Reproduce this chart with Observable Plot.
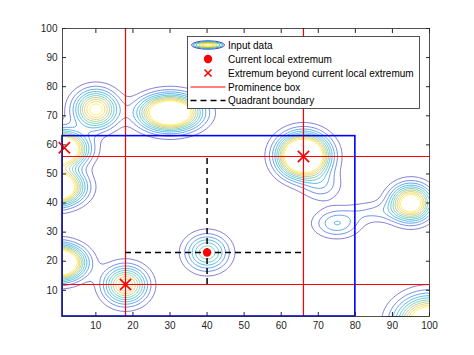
<!DOCTYPE html>
<html>
<head>
<meta charset="utf-8">
<script src="https://cdn.jsdelivr.net/npm/d3@7"></script>
<script src="https://cdn.jsdelivr.net/npm/@observablehq/plot@0.6"></script>
<style>
  body { margin: 0; background: #fff; }
  #wrap { position: relative; width: 474px; height: 355px; font-family: "Liberation Sans", Arial, sans-serif; }
  #legend { position: absolute; left: 187px; top: 36px; }
</style>
</head>
<body>
<div id="wrap"></div>
<script>
// ---- Data ----
const xTicks = [10, 20, 30, 40, 50, 60, 70, 80, 90, 100];
const yTicks = [10, 20, 30, 40, 50, 60, 70, 80, 90, 100];
const contourLevels = [0.1, 0.2, 0.3, 0.4, 0.5, 0.6, 0.7, 0.8, 0.9, 1.0];
const parulaColors = ["#4a44c4", "#2f62e0", "#1f86e0", "#12a6d4", "#30b8b0", "#7cc080", "#c8bc5a", "#f5c93a", "#f5ee20"];

// Surface bumps (centre, spread, height) estimated from the contour picture
const peakX   = [40,  18,   0,    0,    -1,   10,   30,   66,   71,   75,   85,   95,   100];
const peakY   = [23,  11.8, 19.5, 58.5, 45.5, 72.2, 71,   56.3, 46,   33,   37,   40,   -1];
const peakSX  = [3.8, 3.8,  4.2,  4.5,  4.5,  3.8,  5.1,  4.2,  3.5,  4.1,  5,    3.6,  5.5];
const peakSY  = [4.1, 4.2,  3.7,  3.8,  3.8,  4.3,  3.8,  4.6,  3.5,  3.2,  2.5,  4.0,  5.5];
const peakAmp = [0.7, 1.02, 2.0,  2.0,  2.0,  1.1,  1.8,  2.15, 0.25, 0.4,  0.2,  1.3,  1.6];

const currentX = [40];
const currentY = [23];
const beyondX = [18, 66, 1.5];
const beyondY = [12, 56, 59];
const prominenceX = [18, 66];
const prominenceY = [12, 56];
const boxX = [1, 80];
const boxY = [1, 63];
const quadVX = [40], quadVY = [12, 56];
const quadHY = [23], quadHX = [18, 66];
const legendLabels = ["Input data", "Current local extremum", "Extremum beyond current local extremum", "Prominence box", "Quadrant boundary"];

// ---- Build the sampled surface ----
const domainLo = 1, domainHi = 100;
const gridN = 200;
const grid = new Float64Array(gridN * gridN);
for (let r = 0; r < gridN; ++r) {
  const y = domainLo + (r + 0.5) * (domainHi - domainLo) / gridN;
  for (let c = 0; c < gridN; ++c) {
    const x = domainLo + (c + 0.5) * (domainHi - domainLo) / gridN;
    let v = 0;
    for (let k = 0; k < peakX.length; ++k) {
      const dx = (x - peakX[k]) / peakSX[k], dy = (y - peakY[k]) / peakSY[k];
      v += peakAmp[k] * Math.exp(-0.5 * (dx * dx + dy * dy));
    }
    grid[r * gridN + c] = v;
  }
}

const currentPts = currentX.map((x, i) => ({x, y: currentY[i]}));
const beyondPts = beyondX.map((x, i) => ({x, y: beyondY[i]}));
const tickColor = "#262626";

const plot = Plot.plot({
  width: 474, height: 355,
  marginLeft: 62, marginRight: 45, marginTop: 28, marginBottom: 39,
  x: {domain: [domainLo, domainHi], label: null},
  y: {domain: [domainLo, domainHi], label: null},
  color: {type: "linear", domain: [contourLevels[0], contourLevels[contourLevels.length - 1]],
          interpolate: d3.piecewise(d3.interpolateRgb, parulaColors)},
  style: {fontFamily: "'Liberation Sans', Arial, sans-serif", fontSize: "10px", color: tickColor, background: "white", overflow: "visible"},
  marks: [
    Plot.contour(grid, {width: gridN, height: gridN, x1: domainLo, y1: domainLo, x2: domainHi, y2: domainHi,
      stroke: Plot.identity, thresholds: contourLevels, strokeWidth: 0.7}),
    Plot.ruleX(prominenceX, {stroke: "#ff0000", strokeWidth: 1.2}),
    Plot.ruleY(prominenceY, {stroke: "#ff0000", strokeWidth: 1.2}),
    Plot.ruleX(quadVX, {y1: quadVY[0], y2: quadVY[1], stroke: "#000", strokeWidth: 1.5, strokeDasharray: "6,4"}),
    Plot.ruleY(quadHY, {x1: quadHX[0], x2: quadHX[1], stroke: "#000", strokeWidth: 1.5, strokeDasharray: "6,4"}),
    Plot.rect([0], {x1: boxX[0], x2: boxX[1], y1: boxY[0], y2: boxY[1], fill: "none", stroke: "#0000ff", strokeWidth: 1.6}),
    Plot.dot(currentPts, {x: "x", y: "y", r: 4.2, fill: "#ff0000"}),
    Plot.dot(beyondPts, {x: "x", y: "y", r: 5.2, symbol: "times", stroke: "#ff0000", strokeWidth: 1.6}),
    Plot.frame({stroke: tickColor, strokeWidth: 0.8}),
    Plot.axisX(xTicks, {anchor: "bottom", tickSize: -4, tickPadding: 9, stroke: tickColor, fill: tickColor, label: null}),
    Plot.axisX(xTicks, {anchor: "top", tickSize: -4, tickFormat: () => "", stroke: tickColor, label: null}),
    Plot.axisY(yTicks, {anchor: "left", tickSize: -4, tickPadding: 9, stroke: tickColor, fill: tickColor, label: null}),
    Plot.axisY(yTicks, {anchor: "right", tickSize: -4, tickFormat: () => "", stroke: tickColor, label: null})
  ]
});
const wrap = document.getElementById("wrap");
wrap.appendChild(plot);

// ---- Legend (inside the axes, top-right) ----
const W = 233, H = 73, rowY = [9, 23, 37, 51, 64.5], iconX = 21, textX = 41;
const lg = d3.create("svg").attr("id", "legend").attr("width", W).attr("height", H)
  .attr("font-family", "'Liberation Sans', Arial, sans-serif").attr("font-size", 10);
lg.append("rect").attr("x", 0.5).attr("y", 0.5).attr("width", W - 1).attr("height", H - 1)
  .attr("fill", "white").attr("stroke", tickColor).attr("stroke-width", 0.8);
// contour icon
const rings = [[16.5, 4.2, parulaColors[0]], [14.5, 3.4, parulaColors[3]], [12, 2.6, parulaColors[5]], [9, 1.8, parulaColors[7]], [6, 1.2, parulaColors[8]]];
rings.forEach(([rx, ry, c]) => lg.append("ellipse").attr("cx", iconX).attr("cy", rowY[0]).attr("rx", rx).attr("ry", ry)
  .attr("fill", "none").attr("stroke", c).attr("stroke-width", 1));
lg.append("circle").attr("cx", iconX).attr("cy", rowY[1]).attr("r", 4.2).attr("fill", "#ff0000");
lg.append("path").attr("d", `M${iconX - 3.5},${rowY[2] - 3.5}L${iconX + 3.5},${rowY[2] + 3.5}M${iconX - 3.5},${rowY[2] + 3.5}L${iconX + 3.5},${rowY[2] - 3.5}`)
  .attr("stroke", "#ff0000").attr("stroke-width", 1.6);
lg.append("line").attr("x1", 3.5).attr("x2", 38.5).attr("y1", rowY[3]).attr("y2", rowY[3]).attr("stroke", "#ff0000").attr("stroke-width", 1.2);
lg.append("line").attr("x1", 3.5).attr("x2", 38.5).attr("y1", rowY[4]).attr("y2", rowY[4]).attr("stroke", "#000").attr("stroke-width", 1.5).attr("stroke-dasharray", "6,4");
legendLabels.forEach((t, i) => lg.append("text").attr("x", textX).attr("y", rowY[i]).attr("dy", "0.35em").attr("fill", "#000").text(t));
wrap.appendChild(lg.node());
</script>
</body>
</html>
